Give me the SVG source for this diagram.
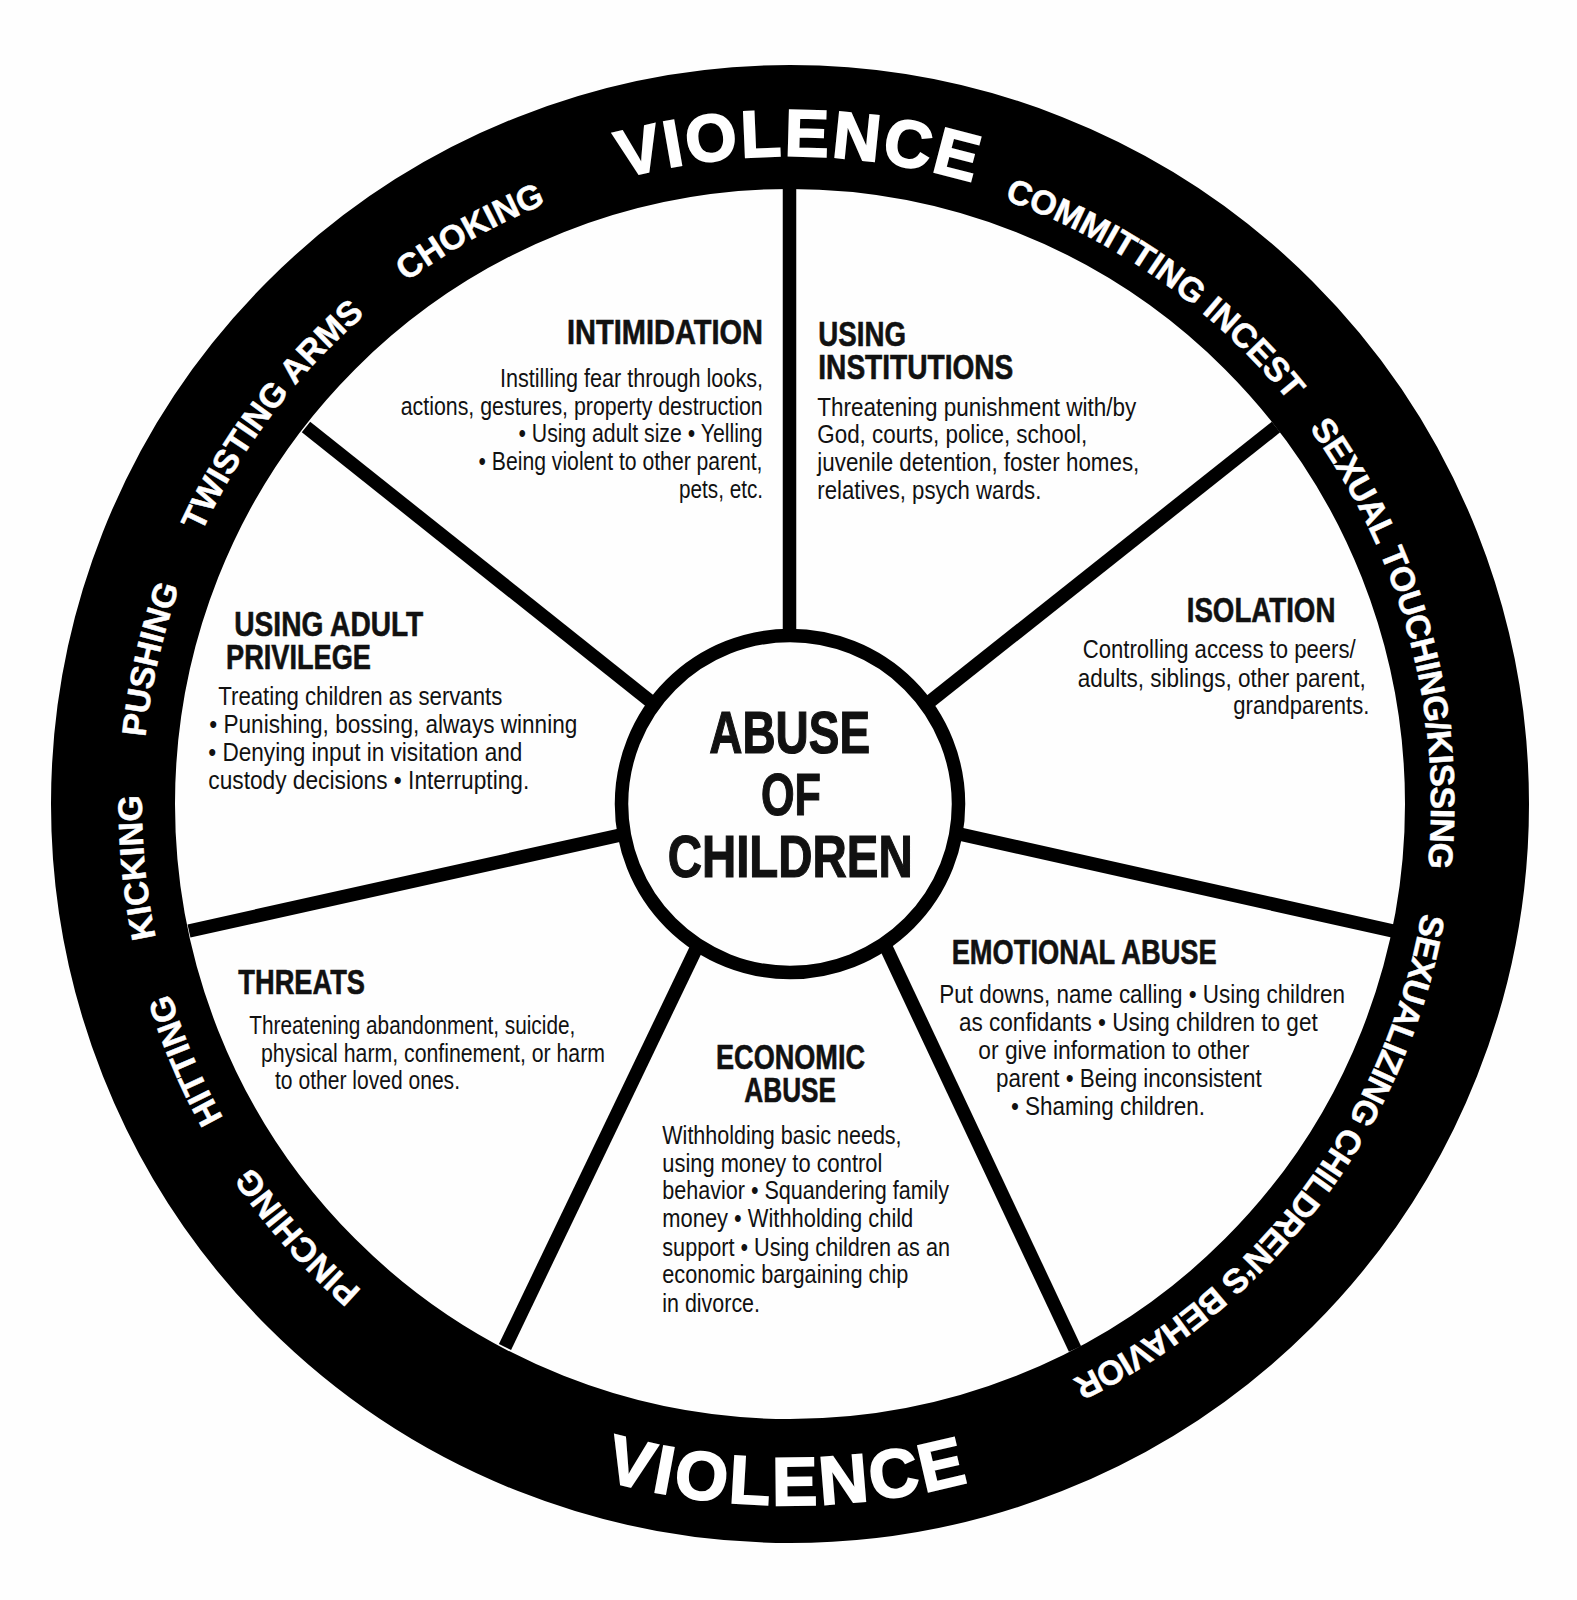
<svg xmlns="http://www.w3.org/2000/svg" width="1577" height="1600" viewBox="0 0 1577 1600">
<style>
text{font-family:"Liberation Sans Narrow","Liberation Sans",Arial,sans-serif;fill:#111}
.h{font-size:35px;font-weight:700;stroke:#111;stroke-width:.6px}
.b{font-size:26px}
.t{font-size:59px;font-weight:700;stroke:#111;stroke-width:1.2px}
.rim{font-family:"Liberation Sans",Arial,sans-serif;font-weight:700;fill:#fff;font-size:34px;text-anchor:middle;stroke:#fff;stroke-width:.5px}
.big{stroke-width:2px}
.top{font-size:66px;letter-spacing:2.5px}
.bot{font-size:68px;letter-spacing:3px}
.sp{stroke:#000;stroke-width:13.5;fill:none}
</style>
<defs>
<path id="r" d="M790 1452A648 648 0 0 1 790 156A648 648 0 0 1 790 1452"/>
<path id="r2" d="M790 1445A641 641 0 0 1 790 163A641 641 0 0 1 790 1445"/>
<path id="rb" d="M89 804A701 701 0 0 0 1491 804"/>
</defs>
<rect width="1577" height="1600" fill="#fefefe"/>
<g id="wheel-rim"><circle cx="790" cy="804" r="677" fill="#fefefe" stroke="#000" stroke-width="124"/></g>
<g id="connectors">
<line class="sp" x1="789.5" y1="800" x2="789.5" y2="189"/>
<line class="sp" x1="925" y1="705.5" x2="1276" y2="427"/>
<line class="sp" x1="955" y1="833" x2="1393" y2="931"/>
<line class="sp" x1="885" y1="945" x2="1075" y2="1349"/>
<line class="sp" x1="697" y1="947" x2="505" y2="1347"/>
<line class="sp" x1="625" y1="834" x2="189" y2="931"/>
<line class="sp" x1="655" y1="705" x2="306" y2="427"/>
</g>
<g id="rim-labels">
<text class="rim big top" transform="rotate(0.8 790 804)"><textPath href="#r" startOffset="50%">VIOLENCE</textPath></text>
<text class="rim big bot" transform="rotate(0.2 790 804)"><textPath href="#rb" startOffset="50%">VIOLENCE</textPath></text>
<text class="rim" transform="rotate(35.3 790 804)"><textPath href="#r2" startOffset="50%">COMMITTING INCEST</textPath></text>
<text class="rim" style="letter-spacing:-.5px" transform="rotate(74.9 790 804)"><textPath href="#r2" startOffset="50%">SEXUAL TOUCHING/KISSING</textPath></text>
<text class="rim" style="letter-spacing:-.9px" transform="rotate(126.8 790 804)"><textPath href="#r2" startOffset="50%">SEXUALIZING CHILDREN‘S BEHAVIOR</textPath></text>
<text class="rim" transform="rotate(228.7 790 804)"><textPath href="#r" startOffset="50%">PINCHING</textPath></text>
<text class="rim" transform="rotate(247 790 804)"><textPath href="#r" startOffset="50%">HITTING</textPath></text>
<text class="rim" transform="rotate(264.45 790 804)"><textPath href="#r" startOffset="50%">KICKING</textPath></text>
<text class="rim" transform="rotate(282.75 790 804)"><textPath href="#r" startOffset="50%">PUSHING</textPath></text>
<text class="rim" transform="rotate(306.9 790 804)"><textPath href="#r" startOffset="50%">TWISTING ARMS</textPath></text>
<text class="rim" transform="rotate(330.8 790 804)"><textPath href="#r" startOffset="50%">CHOKING</textPath></text>
</g>
<g id="hub">
<circle cx="790" cy="804" r="168.5" fill="#fefefe" stroke="#000" stroke-width="13.5"/>
<text class="t" x="709.3" y="753.3" textLength="160.7" lengthAdjust="spacingAndGlyphs">ABUSE</text>
<text class="t" x="761" y="815" textLength="60" lengthAdjust="spacingAndGlyphs">OF</text>
<text class="t" x="667.7" y="876.7" textLength="245" lengthAdjust="spacingAndGlyphs">CHILDREN</text>
</g>
<g id="intimidation">
<text class="h" x="567" y="344" textLength="196" lengthAdjust="spacingAndGlyphs">INTIMIDATION</text>
<text class="b" x="500" y="387" textLength="263" lengthAdjust="spacingAndGlyphs">Instilling fear through looks,</text>
<text class="b" x="400.7" y="415" textLength="362" lengthAdjust="spacingAndGlyphs">actions, gestures, property destruction</text>
<text class="b" x="518.5" y="442" textLength="244" lengthAdjust="spacingAndGlyphs">• Using adult size • Yelling</text>
<text class="b" x="478.5" y="470" textLength="284" lengthAdjust="spacingAndGlyphs">• Being violent to other parent,</text>
<text class="b" x="679" y="498" textLength="84" lengthAdjust="spacingAndGlyphs">pets, etc.</text>
</g>
<g id="using-institutions">
<text class="h" x="818.3" y="345.7" textLength="87.7" lengthAdjust="spacingAndGlyphs">USING</text>
<text class="h" x="818.3" y="379" textLength="195" lengthAdjust="spacingAndGlyphs">INSTITUTIONS</text>
<text class="b" x="817.3" y="415.7" textLength="319" lengthAdjust="spacingAndGlyphs">Threatening punishment with/by</text>
<text class="b" x="817.3" y="443.3" textLength="270" lengthAdjust="spacingAndGlyphs">God, courts, police, school,</text>
<text class="b" x="817.3" y="471" textLength="322" lengthAdjust="spacingAndGlyphs">juvenile detention, foster homes,</text>
<text class="b" x="817.3" y="499" textLength="224" lengthAdjust="spacingAndGlyphs">relatives, psych wards.</text>
</g>
<g id="isolation">
<text class="h" x="1186.7" y="621.7" textLength="148.7" lengthAdjust="spacingAndGlyphs">ISOLATION</text>
<text class="b" x="1082.7" y="658.3" textLength="273" lengthAdjust="spacingAndGlyphs">Controlling access to peers/</text>
<text class="b" x="1077.7" y="686.7" textLength="288" lengthAdjust="spacingAndGlyphs">adults, siblings, other parent,</text>
<text class="b" x="1233.3" y="714.3" textLength="136" lengthAdjust="spacingAndGlyphs">grandparents.</text>
</g>
<g id="emotional-abuse">
<text class="h" x="951.7" y="964.3" textLength="265" lengthAdjust="spacingAndGlyphs">EMOTIONAL ABUSE</text>
<text class="b" x="939.3" y="1003.3" textLength="405.7" lengthAdjust="spacingAndGlyphs">Put downs, name calling • Using children</text>
<text class="b" x="959" y="1031" textLength="358.7" lengthAdjust="spacingAndGlyphs">as confidants • Using children to get</text>
<text class="b" x="978.3" y="1059" textLength="271" lengthAdjust="spacingAndGlyphs">or give information to other</text>
<text class="b" x="996" y="1087" textLength="265.7" lengthAdjust="spacingAndGlyphs">parent • Being inconsistent</text>
<text class="b" x="1011" y="1115" textLength="194" lengthAdjust="spacingAndGlyphs">• Shaming children.</text>
</g>
<g id="economic-abuse">
<text class="h" x="716" y="1069" textLength="149" lengthAdjust="spacingAndGlyphs">ECONOMIC</text>
<text class="h" x="744.3" y="1102.3" textLength="91.7" lengthAdjust="spacingAndGlyphs">ABUSE</text>
<text class="b" x="662.3" y="1144" textLength="239.3" lengthAdjust="spacingAndGlyphs">Withholding basic needs,</text>
<text class="b" x="662.3" y="1171.7" textLength="220" lengthAdjust="spacingAndGlyphs">using money to control</text>
<text class="b" x="662.3" y="1199.3" textLength="286.7" lengthAdjust="spacingAndGlyphs">behavior • Squandering family</text>
<text class="b" x="662.3" y="1227.3" textLength="251" lengthAdjust="spacingAndGlyphs">money • Withholding child</text>
<text class="b" x="662.3" y="1255.7" textLength="287.7" lengthAdjust="spacingAndGlyphs">support • Using children as an</text>
<text class="b" x="662.3" y="1283.3" textLength="246" lengthAdjust="spacingAndGlyphs">economic bargaining chip</text>
<text class="b" x="662.3" y="1311.7" textLength="97.7" lengthAdjust="spacingAndGlyphs">in divorce.</text>
</g>
<g id="threats">
<text class="h" x="238.3" y="994" textLength="126.7" lengthAdjust="spacingAndGlyphs">THREATS</text>
<text class="b" x="249.3" y="1033.7" textLength="326" lengthAdjust="spacingAndGlyphs">Threatening abandonment, suicide,</text>
<text class="b" x="261" y="1061.7" textLength="344" lengthAdjust="spacingAndGlyphs">physical harm, confinement, or harm</text>
<text class="b" x="275" y="1089.3" textLength="185" lengthAdjust="spacingAndGlyphs">to other loved ones.</text>
</g>
<g id="using-adult-privilege">
<text class="h" x="234.3" y="636" textLength="189" lengthAdjust="spacingAndGlyphs">USING ADULT</text>
<text class="h" x="226" y="669.3" textLength="145" lengthAdjust="spacingAndGlyphs">PRIVILEGE</text>
<text class="b" x="218.3" y="705" textLength="284" lengthAdjust="spacingAndGlyphs">Treating children as servants</text>
<text class="b" x="209.3" y="732.7" textLength="368" lengthAdjust="spacingAndGlyphs">• Punishing, bossing, always winning</text>
<text class="b" x="208.3" y="761" textLength="314" lengthAdjust="spacingAndGlyphs">• Denying input in visitation and</text>
<text class="b" x="208.3" y="789" textLength="321" lengthAdjust="spacingAndGlyphs">custody decisions • Interrupting.</text>
</g>
</svg>
